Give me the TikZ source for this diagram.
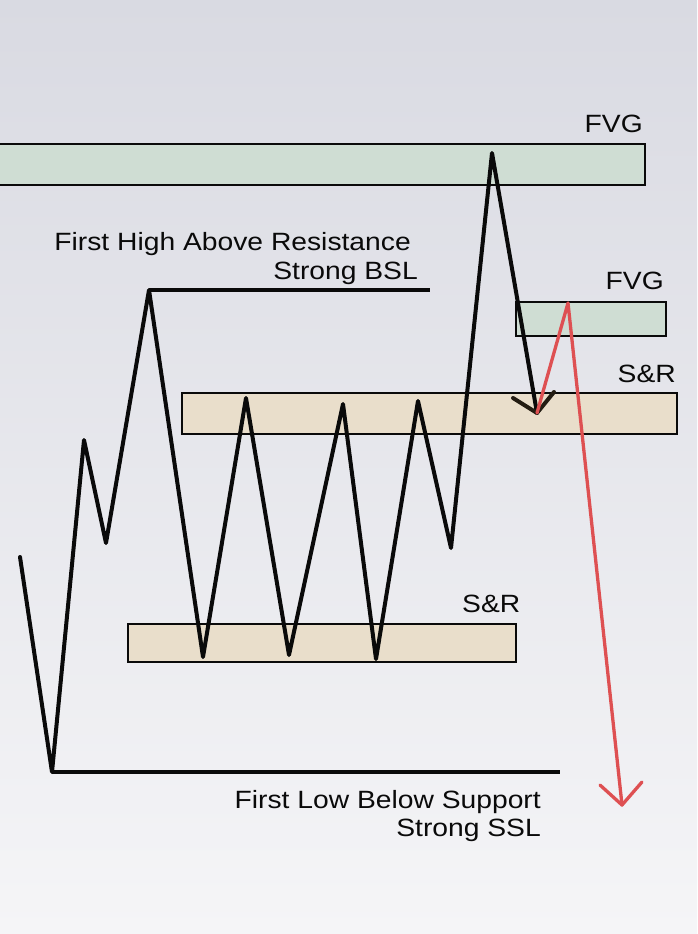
\documentclass[tikz,border=0pt]{standalone}
\usepackage{fontspec}
\newfontfamily\lab[FakeStretch=1.13]{Liberation Sans}
\definecolor{bgtop}{RGB}{217,218,226}
\definecolor{bgbot}{RGB}{245,245,247}
\definecolor{fvgfill}{RGB}{207,221,211}
\definecolor{srfill}{RGB}{233,222,203}
\definecolor{redline}{RGB}{222,80,82}
\definecolor{ink}{RGB}{10,10,10}
\tikzset{
  zone/.style={draw=ink, line width=2pt},
  price/.style={draw=ink, line width=4pt, line join=round, line cap=round},
  level/.style={draw=ink, line width=4pt},
  redpath/.style={draw=redline, line width=3.3pt, line join=round, line cap=round},
  lbl/.style={font=\lab\fontsize{25}{29}\selectfont, text=ink, inner sep=0pt}
}
\begin{document}
\begin{tikzpicture}[x=1pt,y=-1pt]
\shade[top color=bgtop, bottom color=bgbot] (0,0) rectangle (697,934);
\useasboundingbox (0,0) rectangle (697,934);
% zones
\draw[zone, fill=fvgfill] (-5,144) rectangle (645,185);
\draw[zone, fill=fvgfill] (516,302) rectangle (666,336);
\draw[zone, fill=srfill] (182,393) rectangle (677,434);
\draw[zone, fill=srfill] (128,624) rectangle (516,662);
% price points
\coordinate (p0) at (20,557);
\coordinate (p1) at (52,772);
\coordinate (p2) at (84,440);
\coordinate (p3) at (106,543);
\coordinate (p4) at (149,290);
\coordinate (p5) at (203,657);
\coordinate (p6) at (246,398);
\coordinate (p7) at (289,655);
\coordinate (p8) at (343,404);
\coordinate (p9) at (376,659);
\coordinate (p10) at (418,401);
\coordinate (p11) at (451,548);
\coordinate (p12) at (492,153);
\coordinate (p13) at (537,413);
\coordinate (bslend) at (430,290);
\coordinate (sslend) at (560,772);
\coordinate (r1) at (568,303);
\coordinate (r2) at (622,805);
% levels
\draw[level] (p4) -- (bslend);
\draw[level] (p1) -- (sslend);
% price path
\draw[price] (p0) -- (p1) -- (p2) -- (p3) -- (p4) -- (p5) -- (p6) -- (p7) -- (p8) -- (p9) -- (p10) -- (p11) -- (p12) -- (p13);
\draw[price, draw={rgb,255:red,35;green,28;blue,18}] (513,398) -- (p13) -- (554,392);
% red path
\draw[redpath] (p13) -- (r1) -- (r2);
\draw[redpath] (600,785) -- (r2) -- (642,782);
% labels
\node[lbl, anchor=base east] (fvg1) at (643,132) {FVG};
\node[lbl, anchor=base east] (fvg2) at (664,289) {FVG};
\node[lbl, anchor=base east] (sr1) at (676,382) {S\&R};
\node[lbl, anchor=base west] (sr2) at (462,612) {S\&R};
\node[lbl, anchor=base east] (bsl1) at (411,250) {First High Above Resistance};
\node[lbl, anchor=base east] (bsl2) at (418,279) {Strong BSL};
\node[lbl, anchor=base east] (ssl1) at (541,808) {First Low Below Support};
\node[lbl, anchor=base east] (ssl2) at (541,836) {Strong SSL};
\end{tikzpicture}
\end{document}
